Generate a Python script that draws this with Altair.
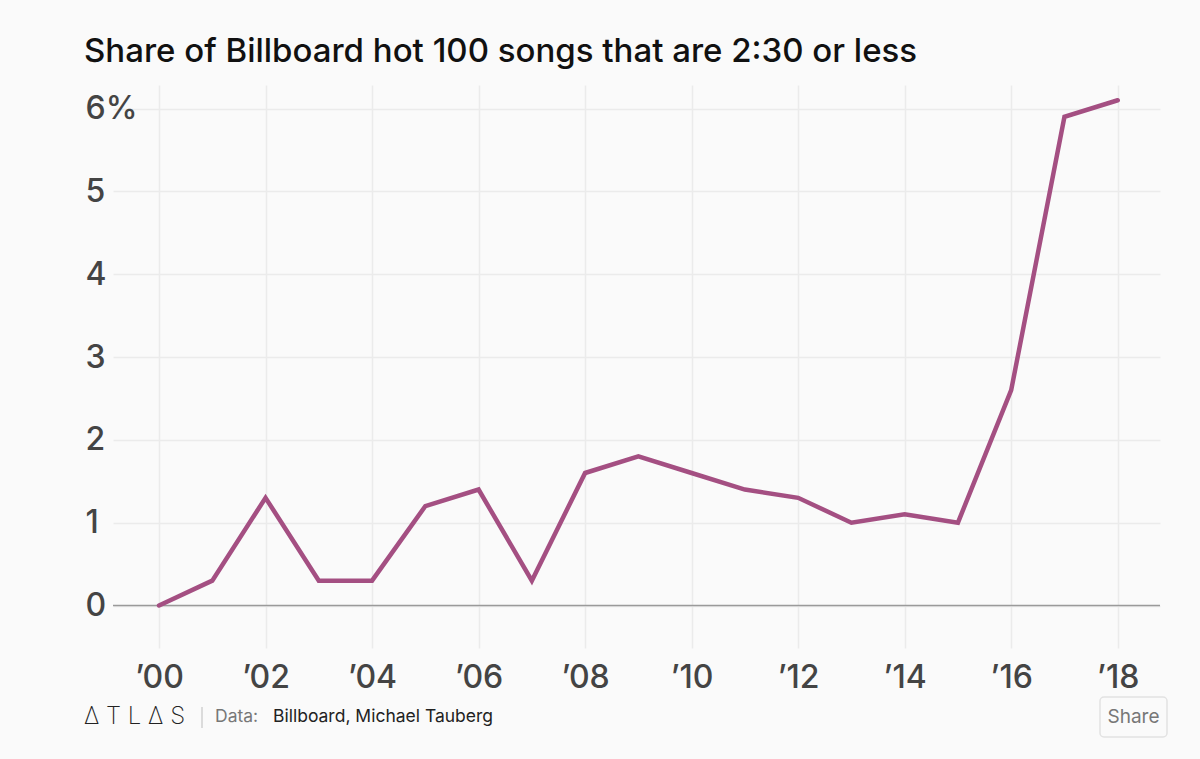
import altair as alt
import pandas as pd

years = list(range(2000, 2019))
share = [0.0, 0.3, 1.3, 0.3, 0.3, 1.2, 1.4, 0.3, 1.6, 1.8, 1.6, 1.4, 1.3, 1.0, 1.1, 1.0, 2.6, 5.9, 6.1]
y_ticks = [0, 1, 2, 3, 4, 5, 6]
x_ticks = list(range(2000, 2019, 2))
title_text = "Share of Billboard hot 100 songs that are 2:30 or less"
source_label = "Data:"
source_text = "Billboard, Michael Tauberg"
logo_text = "Δ T L Δ S"
button_text = "Share"

df = pd.DataFrame({"year": years, "share": share})
one = pd.DataFrame({"k": [0]})

FONT = "Inter"
LINE = "#a44f82"
GRID = "#ebebeb"

x_enc = alt.X(
    "year:Q",
    scale=alt.Scale(domain=[1999.136, 2018.794], nice=False, zero=False),
    axis=alt.Axis(
        values=x_ticks,
        labelExpr="'\u2019' + substring(toString(datum.value), 2, 4)",
        title=None, grid=True, gridColor=GRID, gridWidth=1.5,
        domain=False, ticks=False, labelPadding=14, labelFlush=False,
        labelFontSize=32, labelColor="#444", labelFont=FONT, labelFontWeight=500,
    ),
)
y_enc = alt.Y(
    "share:Q",
    scale=alt.Scale(domain=[-0.513, 6.284], nice=False, zero=False),
    axis=alt.Axis(
        values=y_ticks,
        labelExpr="datum.value == 6 ? '6%' : toString(datum.value)",
        title=None, grid=True, gridColor=GRID, gridWidth=1.5,
        domain=False, ticks=False, labelAlign="left", labelPadding=28,
        labelFontSize=32, labelColor="#444", labelFont=FONT, labelFontWeight=500,
    ),
)

line = alt.Chart(df).mark_line(color=LINE, strokeWidth=4.5, strokeJoin="miter", strokeCap="round").encode(
    x=x_enc, y=y_enc
)

zero = alt.Chart(one).mark_rule(color="#9a9a9a", strokeWidth=1.5).encode(y=alt.datum(0))

logo = alt.Chart(one).mark_text(
    text=logo_text, font=FONT, fontSize=24, fontWeight=200, color="#222", align="left", baseline="middle"
).encode(x=alt.value(-29), y=alt.value(632))

sep = alt.Chart(one).mark_rule(color="#d0d0d0", strokeWidth=1.5).encode(
    x=alt.value(89), y=alt.value(622), y2=alt.value(643)
)

src_lbl = alt.Chart(one).mark_text(
    text=source_label, font=FONT, fontSize=17.5, color="#777", align="left", baseline="middle"
).encode(x=alt.value(102), y=alt.value(632))

src = alt.Chart(one).mark_text(
    text=source_text, font=FONT, fontSize=17.5, color="#222", align="left", baseline="middle"
).encode(x=alt.value(160), y=alt.value(632))

btn = alt.Chart(one).mark_rect(
    cornerRadius=4, fill="#fafafa", stroke="#e2e2e2", strokeWidth=1.5
).encode(x=alt.value(987), x2=alt.value(1054), y=alt.value(612), y2=alt.value(652))

btn_txt = alt.Chart(one).mark_text(
    text=button_text, font=FONT, fontSize=19, color="#777", align="center", baseline="middle"
).encode(x=alt.value(1020.5), y=alt.value(632))

chart = alt.layer(zero, line, logo, sep, src_lbl, src, btn, btn_txt).properties(
    width=1047,
    height=563,
    autosize=alt.AutoSizeParams(type="none"),
    padding={"left": 113, "top": 85, "right": 40, "bottom": 111},
    background="#fafafa",
    title=alt.Title(
        title_text, anchor="start", offset=16,
        font=FONT, fontSize=33, fontWeight=500, color="#111",
    ),
).configure_view(stroke=None)

chart.save("out.html", embed_options={"renderer": "svg", "actions": False})
